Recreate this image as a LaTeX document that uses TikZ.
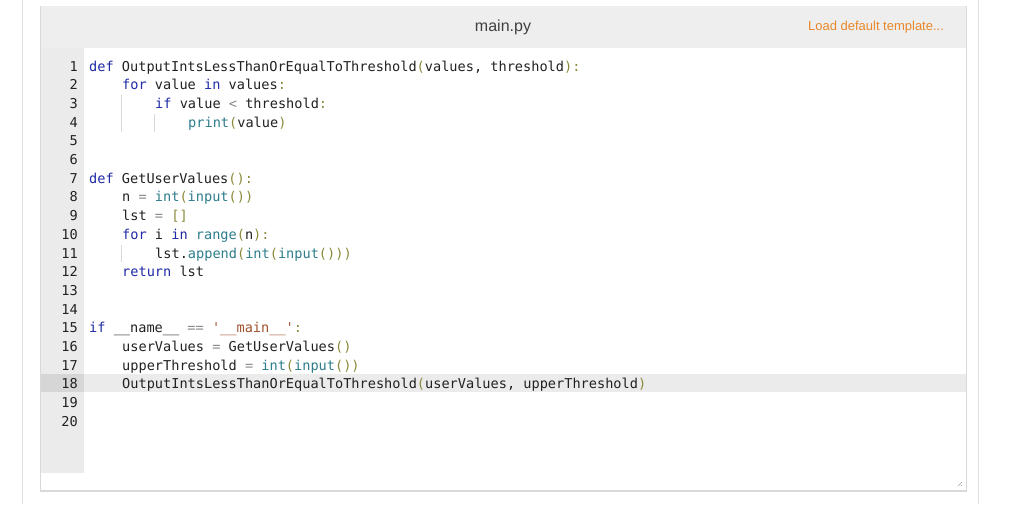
\documentclass[tikz,border=0pt]{standalone}
\usepackage{fontspec}
\setmainfont{Liberation Sans}
\newfontfamily\codefont{DejaVu Sans Mono}
\definecolor{kw}{HTML}{1F2BA8}
\definecolor{bi}{HTML}{2E7D8C}
\definecolor{pu}{HTML}{8A8A3A}
\definecolor{st}{HTML}{A0522D}
\definecolor{op}{HTML}{888888}
\definecolor{tx}{HTML}{222222}
\definecolor{hdr}{HTML}{EEEEEE}
\definecolor{gut}{HTML}{EBEBEB}
\definecolor{orng}{HTML}{E8882A}
\newcommand{\K}[1]{\textcolor{kw}{#1}}
\newcommand{\B}[1]{\textcolor{bi}{#1}}
\newcommand{\PU}[1]{\textcolor{pu}{#1}}
\newcommand{\ST}[1]{\textcolor{st}{#1}}
\newcommand{\OP}[1]{\textcolor{op}{#1}}
\begin{document}
\begin{tikzpicture}[x=1pt,y=-1pt,
  code/.style={anchor=base west,inner sep=0pt,font=\codefont\fontsize{13.6}{14}\selectfont,text=tx},
  num/.style={anchor=base east,inner sep=0pt,font=\codefont\fontsize{13.6}{14}\selectfont,text=tx}]
\useasboundingbox (0,0) rectangle (1024,504);
\fill[white] (0,0) rectangle (1024,504);
\draw[black!12] (22,0) -- (22,504) (978,0) -- (978,504);
\fill[black!15] (40,6) rectangle (967,492);
\fill[white] (41,6) rectangle (966,490);
\fill[hdr] (41,6) rectangle (966,48);
\node[font=\fontsize{16}{17}\selectfont,text=black!75] (title) at (503,27) {main.py};
\node[font=\fontsize{13}{14}\selectfont,text=orng] (load) at (876,27) {Load default template...};
\fill[gut] (41,48) rectangle (84,473);
\fill[black!16] (41,374) rectangle (84,392);
\fill[black!8] (84,374) rectangle (966,392);
\draw[black!35] (958,486) -- (962,482) (961,486) -- (962,485);
\draw[black!15] (121,95) -- (121,132) (154,114) -- (154,132) (121,245) -- (121,262);
\foreach \i in {1,...,20} {
  \node[num] (n\i) at (78,{71+(\i-1)*18.7}) {\i};
}
\node[code] (l1) at (89,71) {\K{def} OutputIntsLessThanOrEqualToThreshold\PU{(}values, threshold\PU{)}\PU{:}};
\node[code] (l2) at (122,89.7) {\K{for} value \K{in} values\PU{:}};
\node[code] (l3) at (155,108.4) {\K{if} value \OP{<} threshold\PU{:}};
\node[code] (l4) at (188,127.1) {\B{print}\PU{(}value\PU{)}};
\node[code] (l7) at (89,183.2) {\K{def} GetUserValues\PU{()}\PU{:}};
\node[code] (l8) at (122,201.9) {n \OP{=} \B{int}\PU{(}\B{input}\PU{())}};
\node[code] (l9) at (122,220.6) {lst \OP{=} \PU{[]}};
\node[code] (l10) at (122,239.3) {\K{for} i \K{in} \B{range}\PU{(}n\PU{)}\PU{:}};
\node[code] (l11) at (155,258) {lst.\B{append}\PU{(}\B{int}\PU{(}\B{input}\PU{()))}};
\node[code] (l12) at (122,276.7) {\K{return} lst};
\node[code] (l15) at (89,332.8) {\K{if} \_\_name\_\_ \OP{==} \ST{'\_\_main\_\_'}\PU{:}};
\node[code] (l16) at (122,351.5) {userValues \OP{=} GetUserValues\PU{()}};
\node[code] (l17) at (122,370.2) {upperThreshold \OP{=} \B{int}\PU{(}\B{input}\PU{())}};
\node[code] (l18) at (122,388.9) {OutputIntsLessThanOrEqualToThreshold\PU{(}userValues, upperThreshold\PU{)}};
\end{tikzpicture}
\end{document}
